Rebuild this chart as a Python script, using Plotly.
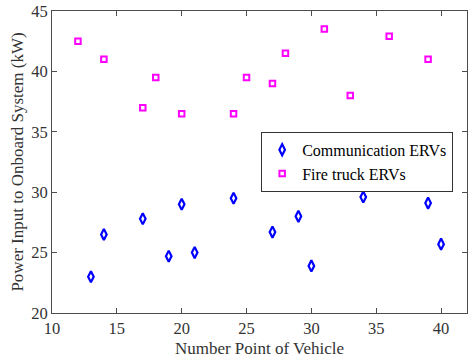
import plotly.graph_objects as go

comm_x = [13, 14, 17, 19, 20, 21, 24, 27, 29, 30, 34, 39, 40]
comm_y = [23.0, 26.5, 27.8, 24.7, 29.0, 25.0, 29.5, 26.7, 28.0, 23.9, 29.6, 29.1, 25.7]
fire_x = [12, 14, 17, 18, 20, 24, 25, 27, 28, 31, 33, 36, 39]
fire_y = [42.5, 41.0, 37.0, 39.5, 36.5, 36.5, 39.5, 39.0, 41.5, 43.5, 38.0, 42.9, 41.0]
x_ticks = [10, 15, 20, 25, 30, 35, 40]
y_ticks = [20, 25, 30, 35, 40, 45]

font = "Liberation Serif, Times New Roman, serif"

fig = go.Figure()
fig.add_trace(go.Scatter(x=comm_x, y=comm_y, mode="markers", name="Communication ERVs",
                         marker=dict(symbol="diamond-tall-open", size=8, color="#0000ff",
                                     line=dict(width=2.2, color="#0000ff"))))
fig.add_trace(go.Scatter(x=fire_x, y=fire_y, mode="markers", name="Fire truck ERVs",
                         marker=dict(symbol="square-open", size=5.5, color="#ff00ff",
                                     line=dict(width=2, color="#ff00ff"))))

axis_common = dict(showgrid=False, zeroline=False, showline=True, linecolor="#4d4d4d",
                   linewidth=1, mirror="ticks", ticks="inside", ticklen=5, automargin=False,
                   tickcolor="#4d4d4d", tickfont=dict(family=font, size=16.5, color="#333333"))
fig.update_xaxes(range=[10, 42], tickvals=x_ticks,
                 title=dict(text="Number Point of Vehicle", font=dict(family=font, size=17, color="#333333"), standoff=5),
                 **axis_common)
fig.update_yaxes(range=[20, 45], tickvals=y_ticks,
                 title=dict(text="Power Input to Onboard System (kW)", font=dict(family=font, size=17, color="#333333"), standoff=3),
                 **axis_common)

fig.update_layout(width=474, height=361, margin=dict(l=52, r=7, t=11, b=48),
                  paper_bgcolor="white", plot_bgcolor="white",
                  legend=dict(x=0.504, y=0.6, xanchor="left", yanchor="top",
                              bgcolor="white", bordercolor="#333333", borderwidth=1,
                              font=dict(family=font, size=16, color="#000000"),
                              itemsizing="trace", tracegroupgap=0),
                  showlegend=True)

fig.write_html("out.html", config={"displayModeBar": False},
               post_script="document.body.style.margin='0';document.body.style.overflow='hidden';")
